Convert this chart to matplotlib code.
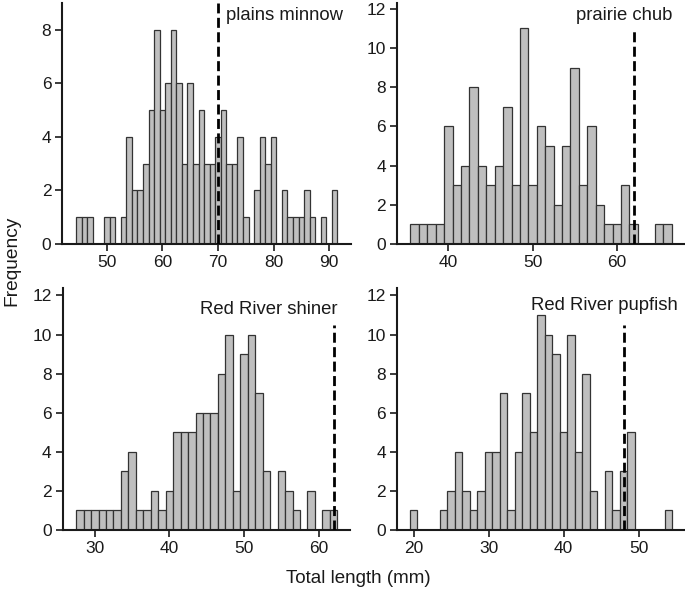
import matplotlib
matplotlib.use("Agg")
import matplotlib.pyplot as plt
import numpy as np

plt.rcParams['font.family'] = ['Liberation Sans', 'DejaVu Sans']

# 1-mm length bins: first bin centre, then counts per bin
minnow_start = 45
minnow_counts = [1, 1, 1, 0, 0, 1, 1, 0, 1, 4, 2, 2, 3, 5, 8, 5, 6, 8, 6, 3,
                 6, 3, 5, 3, 3, 4, 5, 3, 3, 4, 1, 0, 2, 4, 3, 4, 0, 2, 1, 1,
                 1, 2, 1, 0, 1, 0, 2]
chub_start = 36
chub_counts = [1, 1, 1, 1, 6, 3, 4, 8, 4, 3, 4, 7, 3, 11, 3, 6, 5, 2, 5, 9,
               3, 6, 2, 1, 1, 3, 1, 0, 0, 1, 1]
shiner_start = 28
shiner_counts = [1, 1, 1, 1, 1, 1, 3, 4, 1, 1, 2, 1, 2, 5, 5, 5, 6, 6, 6, 8,
                 10, 2, 9, 10, 7, 3, 0, 3, 2, 1, 0, 2, 0, 1, 1]
pupfish_start = 20
pupfish_counts = [1, 0, 0, 0, 1, 2, 4, 2, 1, 2, 4, 4, 7, 1, 4, 7, 5, 11, 10, 9,
                  5, 10, 4, 8, 2, 0, 3, 1, 3, 5, 0, 0, 0, 0, 1]

species = ['plains minnow', 'prairie chub', 'Red River shiner', 'Red River pupfish']
starts = [minnow_start, chub_start, shiner_start, pupfish_start]
counts = [minnow_counts, chub_counts, shiner_counts, pupfish_counts]
ref_lengths = [70, 62, 62, 48]

xlims = [(42, 93.9), (33.9, 68.1), (25.7, 64.2), (17.8, 56.2)]
ylims = [(0, 9), (0, 12.3), (0, 12.4), (0, 12.4)]
xticks = [[50, 60, 70, 80, 90], [40, 50, 60], [30, 40, 50, 60], [20, 30, 40, 50]]
yticks = [[0, 2, 4, 6, 8], list(range(0, 13, 2)), list(range(0, 13, 2)), list(range(0, 13, 2))]
label_pos = [(0.973, 0.95), (0.955, 0.95), (0.955, 0.91), (0.976, 0.928)]
line_top = [1.0, 0.895, 0.845, 0.845]

# axes rectangles in figure fractions [left, bottom, width, height]
rects = [[0.0912, 0.5885, 0.4208, 0.4065],
         [0.5796, 0.5885, 0.4204, 0.4065],
         [0.0915, 0.1062, 0.4195, 0.4088],
         [0.5796, 0.1062, 0.4204, 0.4088]]

fig = plt.figure(figsize=(6.85, 5.93), dpi=100)

for i in range(4):
    ax = fig.add_axes(rects[i])
    centres = np.arange(starts[i], starts[i] + len(counts[i]))
    ax.bar(centres, counts[i], width=1.0, color='#bfbfbf', edgecolor='#333333',
           linewidth=0.9, zorder=2)
    ax.axvline(ref_lengths[i], ymin=0, ymax=line_top[i], color='black', lw=2.0,
               dashes=(3.6, 1.6), zorder=3)
    ax.set_xlim(*xlims[i])
    ax.set_ylim(*ylims[i])
    ax.set_xticks(xticks[i])
    ax.set_yticks(yticks[i])
    for side in ['top', 'right']:
        ax.spines[side].set_visible(False)
    for side in ['left', 'bottom']:
        ax.spines[side].set_linewidth(1.5)
        ax.spines[side].set_color('#1a1a1a')
    ax.tick_params(direction='out', length=5, width=1.2, labelsize=12.5,
                   colors='#1a1a1a', pad=3)
    ax.text(label_pos[i][0], label_pos[i][1], species[i], transform=ax.transAxes,
            ha='right', va='center', fontsize=13.3, color='#1a1a1a')

fig.text(0.018, 0.56, 'Frequency', rotation=90, ha='center', va='center',
         fontsize=13.8, color='#1a1a1a')
fig.text(0.523, 0.025, 'Total length (mm)', ha='center', va='center',
         fontsize=13.5, color='#1a1a1a')

fig.savefig('out.png', dpi=100)
